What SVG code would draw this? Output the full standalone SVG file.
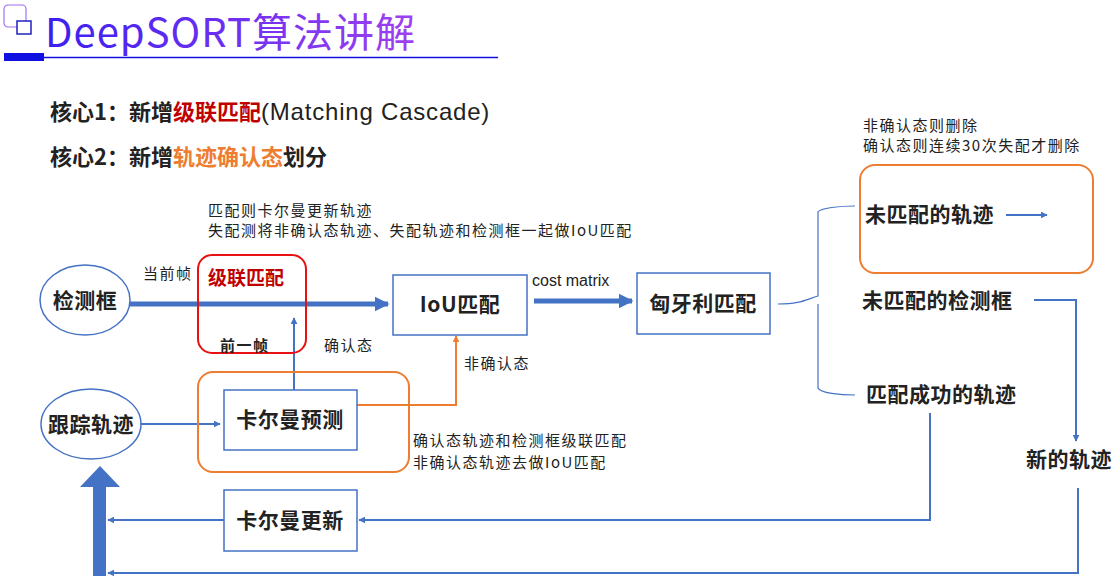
<svg xmlns="http://www.w3.org/2000/svg" width="1119" height="583" viewBox="0 0 1119 583">
<defs>
<linearGradient id="tg" x1="0" x2="1"><stop offset="0" stop-color="#3a1ff0"/><stop offset="1" stop-color="#a040f0"/></linearGradient>
<marker id="ab" viewBox="0 0 10 10" refX="9" refY="5" markerWidth="7" markerHeight="7" orient="auto" markerUnits="userSpaceOnUse"><path d="M0,0L10,5L0,10z" fill="#4472c4"/></marker>
<marker id="abt" viewBox="0 0 10 10" refX="9" refY="5" markerWidth="3" markerHeight="3.5" orient="auto"><path d="M0,0L10,5L0,10z" fill="#4472c4"/></marker>
<marker id="ao" viewBox="0 0 10 10" refX="9" refY="5" markerWidth="7" markerHeight="7" orient="auto" markerUnits="userSpaceOnUse"><path d="M0,0L10,5L0,10z" fill="#ed7d31"/></marker>
</defs>
<style>
text{font-family:"Noto Sans CJK SC","Liberation Sans",sans-serif;fill:#222}
.n{font-size:21px;font-weight:bold;letter-spacing:0.5px}
.s{font-size:15px;letter-spacing:1.5px}
.box{fill:#fff;stroke:#4472c4;stroke-width:1.5}
.c{fill:none;stroke:#4472c4;stroke-width:2}
.o{fill:none;stroke:#ed7d31;stroke-width:2}
</style>
<rect width="1119" height="583" fill="#fff"/>
<g id="title">
<rect x="4" y="5" width="22" height="22" rx="4" fill="none" stroke="#a070f0" stroke-width="1.2"/>
<rect x="17" y="21" width="14" height="13" fill="#fff" stroke="#2020c0" stroke-width="1.5"/>
<text x="45" y="47" font-size="40" letter-spacing="1" style="font-family:'Noto Sans CJK SC',sans-serif;fill:url(#tg)">DeepSORT算法讲解</text>
<rect x="4" y="53" width="40" height="8" fill="#1010e0"/>
<line x1="44" y1="57.5" x2="498" y2="57.5" stroke="#1010e0" stroke-width="1.5"/>
<text x="50" y="120" font-size="22" font-weight="bold">核心1：新增<tspan style="fill:#c00000">级联匹配</tspan><tspan font-weight="normal" style="font-family:'Liberation Sans',sans-serif" font-size="24" letter-spacing="0.8">(Matching Cascade)</tspan></text>
<text x="50" y="165" font-size="22" font-weight="bold">核心2：新增<tspan style="fill:#ed7d31">轨迹确认态</tspan>划分</text>
</g>
<g id="connectors">
<line x1="130" y1="304" x2="388" y2="304" stroke="#4472c4" stroke-width="5" marker-end="url(#abt)"/>
<line x1="534" y1="301" x2="632" y2="301" stroke="#4472c4" stroke-width="5" marker-end="url(#abt)"/>
<line x1="294" y1="390" x2="294" y2="318" class="c" marker-end="url(#ab)"/>
<path d="M357,405H456V336" class="o" marker-end="url(#ao)"/>
<line x1="130" y1="424" x2="220" y2="424" class="c" marker-end="url(#ab)"/>
<path d="M778,304C800,304 805,300 818,296V212C820,208 840,206 855,206M818,304V388C820,393 840,395 855,395" fill="none" stroke="#4472c4" stroke-width="1.2"/>
<line x1="1006" y1="215" x2="1047" y2="215" class="c" marker-end="url(#ab)"/>
<path d="M1034,300H1076V441" class="c" marker-end="url(#ab)"/>
<path d="M930,413V520H359" class="c" marker-end="url(#ab)"/>
<line x1="224" y1="520" x2="108" y2="520" class="c" marker-end="url(#ab)"/>
<path d="M1078,488V573H108" class="c" marker-end="url(#ab)"/>
<path d="M93,576V487H80L100,466L120,487H106V576Z" fill="#4472c4"/>
</g>
<g id="jiance">
<ellipse cx="85" cy="300" rx="45" ry="35" class="box" stroke-width="1.2"/>
<text x="85" y="308" class="n" text-anchor="middle">检测框</text>
<text x="143" y="279" class="s" letter-spacing="0">当前帧</text>
</g>
<g id="cascade">
<rect x="198" y="255" width="108" height="98" rx="14" fill="none" stroke="#e81010" stroke-width="2"/>
<text x="208" y="285" font-size="19" font-weight="bold" style="fill:#c00000">级联匹配</text>
<text x="220" y="351" class="s" font-weight="bold" letter-spacing="0">前一帧</text>
<text x="324" y="351" class="s" letter-spacing="0">确认态</text>
</g>
<g id="iou">
<rect x="393" y="275" width="134" height="60" class="box"/>
<text x="460" y="312" class="n" text-anchor="middle" font-weight="normal">IoU匹配</text>
<text x="532" y="286" font-size="16" style="font-family:'Liberation Sans',sans-serif">cost matrix</text>
<text x="208" y="216" class="s">匹配则卡尔曼更新轨迹</text>
<text x="208" y="236" class="s" letter-spacing="1.3">失配测将非确认态轨迹、失配轨迹和检测框一起做IoU匹配</text>
</g>
<g id="hungarian">
<rect x="637" y="273" width="133" height="61" class="box"/>
<text x="703" y="311" class="n" text-anchor="middle">匈牙利匹配</text>
</g>
<g id="unmatched-tracks">
<text x="863" y="131" class="s">非确认态则删除</text>
<text x="863" y="151" class="s">确认态则连续30次失配才删除</text>
<rect x="860" y="165" width="233" height="108" rx="15" class="o"/>
<text x="865" y="222" class="n">未匹配的轨迹</text>
</g>
<g id="unmatched-det"><text x="862" y="308" class="n">未匹配的检测框</text></g>
<g id="matched"><text x="866" y="402" class="n">匹配成功的轨迹</text></g>
<g id="newtrack"><text x="1026" y="467" class="n">新的轨迹</text></g>
<g id="predict">
<rect x="198" y="372" width="211" height="100" rx="15" class="o"/>
<rect x="224" y="390" width="133" height="60" class="box"/>
<text x="290" y="427" class="n" text-anchor="middle">卡尔曼预测</text>
<text x="464" y="369" class="s" letter-spacing="0">非确认态</text>
<text x="413" y="446" class="s" letter-spacing="1">确认态轨迹和检测框级联匹配</text>
<text x="413" y="468" class="s" letter-spacing="1">非确认态轨迹去做IoU匹配</text>
</g>
<g id="tracks">
<ellipse cx="91" cy="424" rx="50" ry="35" class="box" stroke-width="1.2"/>
<text x="91" y="432" class="n" text-anchor="middle">跟踪轨迹</text>
</g>
<g id="update">
<rect x="224" y="490" width="133" height="61" class="box"/>
<text x="290" y="528" class="n" text-anchor="middle">卡尔曼更新</text>
</g>
</svg>
